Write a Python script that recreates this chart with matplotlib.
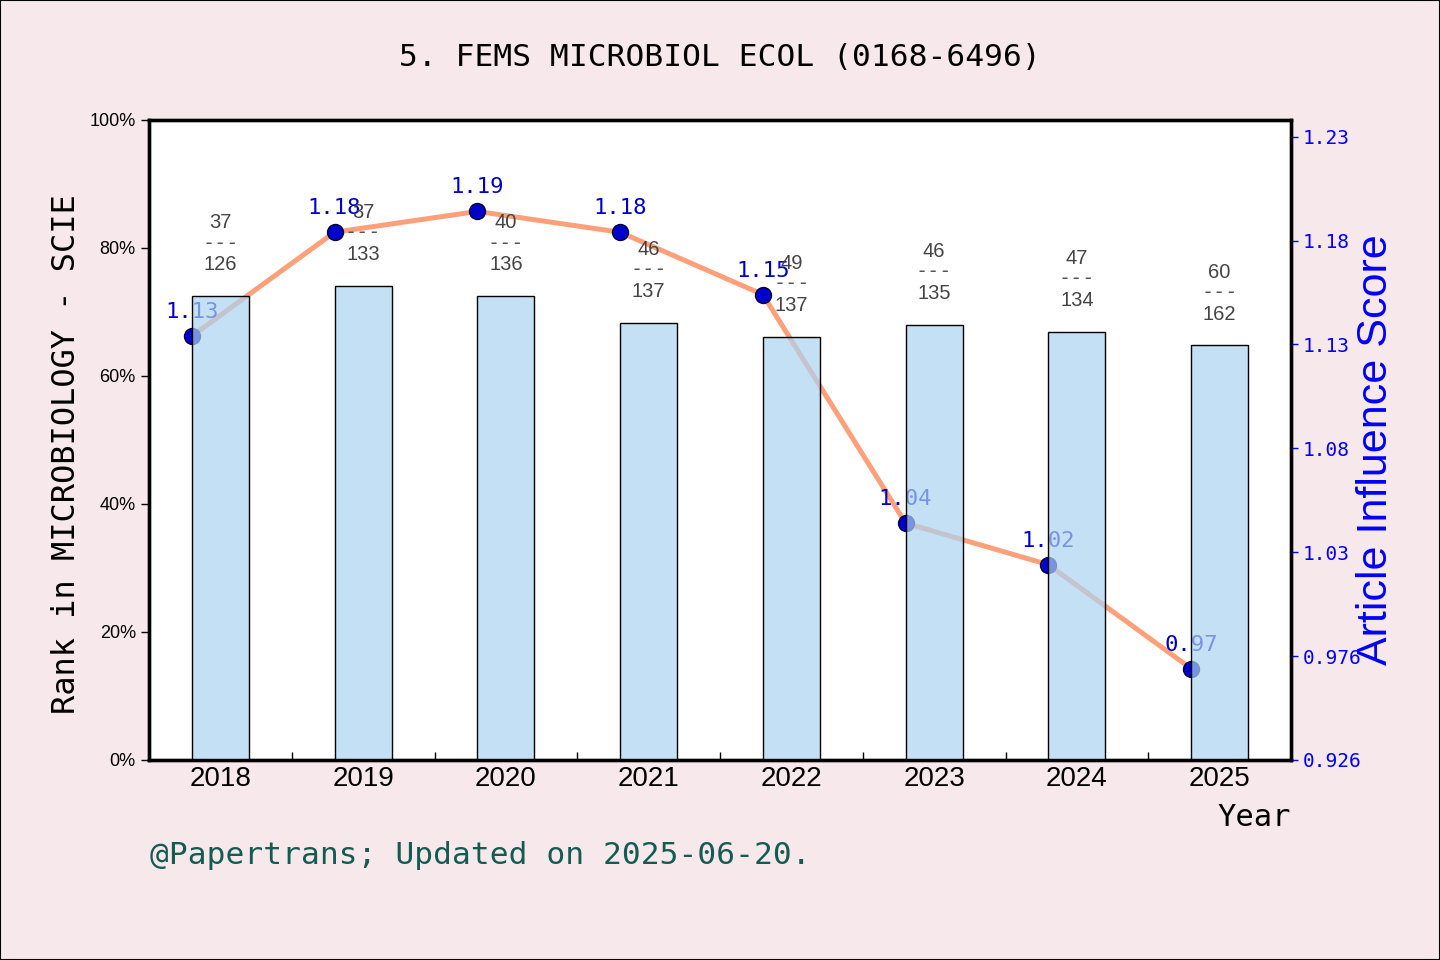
import numpy as np
import matplotlib
matplotlib.use("Agg")
import matplotlib.pyplot as plt
from matplotlib.colors import to_rgba
from matplotlib.patches import Rectangle

# ---- data ----
years = ["2018", "2019", "2020", "2021", "2022", "2023", "2024", "2025"]
rank_pct = [72.5, 74.1, 72.5, 68.3, 66.1, 68.0, 66.9, 64.8]
ranks = [37, 37, 40, 46, 49, 46, 47, 60]
totals = [126, 133, 136, 137, 137, 135, 134, 162]
ais = [1.13, 1.18, 1.19, 1.18, 1.15, 1.04, 1.02, 0.97]

MONO = "DejaVu Sans Mono"
SANS = "Liberation Sans"
BAR_W = 0.4

fig = plt.figure(figsize=(14.4, 9.6), dpi=100, facecolor="#f7e8eb")
ax = fig.add_axes([149 / 1440, 1 - 760 / 960, (1291 - 149) / 1440, 640 / 960])
ax2 = ax.twinx()

# bars sit above the line (semi transparent); ax2 gives the white background
ax.set_zorder(ax2.get_zorder() + 1)
ax.patch.set_visible(False)
ax2.patch.set_visible(True)
ax2.patch.set_facecolor("white")

x = np.arange(len(years))
xl = x - BAR_W / 2  # line points sit on the left edge of each bar

# -------- line: Article Influence Score --------
ax2.plot(xl, ais, color="#ffa07a", lw=3.6, zorder=2)
ax2.plot(xl, ais, "o", ms=11.5, color="#0000cd", mec="#000033", mew=1, zorder=3)
for xi, v in zip(xl, ais):
    ax2.annotate(f"{v:.2f}", (xi, v), xytext=(0, 24), textcoords="offset pixels",
                 ha="center", va="center", color="#0000cd", fontsize=16, family=MONO)

rng = max(ais) - min(ais)
lo, hi = min(ais) - 0.2 * rng, max(ais) + 0.2 * rng
ax2.set_ylim(lo, hi)
rt = np.arange(lo, hi, 0.05)
ax2.set_yticks(rt)
ax2.set_yticklabels([f"{t:.3g}" for t in rt])
ax2.tick_params(axis="y", colors="blue", labelsize=14, length=5, width=1, direction="out")
for lab in ax2.get_yticklabels():
    lab.set_family(MONO)

# -------- bars: rank percentile --------
ax.bar(x, rank_pct, width=BAR_W, color=to_rgba("#acd3f2", 0.7), edgecolor="black", lw=1, zorder=2)
for xi, h, r, t in zip(x, rank_pct, ranks, totals):
    ax.annotate(str(r), (xi, h), xytext=(0, 73), textcoords="offset pixels", ha="center",
                va="center", fontsize=14.5, color="#444444", family=SANS, zorder=4)
    ax.annotate("---", (xi, h), xytext=(0, 53), textcoords="offset pixels", ha="center",
                va="center", fontsize=14.5, color="#555555", family=MONO, zorder=4)
    ax.annotate(str(t), (xi, h), xytext=(0, 31), textcoords="offset pixels", ha="center",
                va="center", fontsize=14.5, color="#444444", family=SANS, zorder=4)

ax.set_xlim(-0.5, len(years) - 0.5)
ax.set_ylim(0, 100)
ax.set_yticks(range(0, 101, 20))
ax.set_yticklabels([f"{v}%" for v in range(0, 101, 20)], family=SANS, fontsize=13)
ax.set_xticks(x)
ax.set_xticklabels(years, family=SANS, fontsize=20)
ax.set_xticks(np.arange(0.5, len(years) - 0.5, 1), minor=True)
ax.tick_params(axis="x", which="major", length=0, pad=4)
ax.tick_params(axis="x", which="minor", direction="in", length=6, width=1)
ax.tick_params(axis="y", direction="out", length=6, width=1)

for a in (ax, ax2):
    for s in a.spines.values():
        s.set_linewidth(2.4)
        s.set_color("black")

# -------- texts --------
fig.text(0.5, 1 - 57 / 960, "5. FEMS MICROBIOL ECOL (0168-6496)", ha="center", va="center",
         fontsize=22.5, family=MONO)
fig.text(67 / 1440, 1 - 454 / 960, "Rank in MICROBIOLOGY - SCIE", rotation=90, ha="center",
         va="center", fontsize=23, family=MONO)
fig.text(1376 / 1440, 1 - 450 / 960, "Article Influence Score", rotation=90, ha="center",
         va="center", fontsize=31, family=SANS, color="blue")
fig.text(1254 / 1440, 1 - 817 / 960, "Year", ha="center", va="center", fontsize=22, family=MONO)
fig.text(150 / 1440, 1 - 855 / 960, "@Papertrans; Updated on 2025-06-20.", ha="left", va="center",
         fontsize=22.5, family=MONO, color="#145c52")

fig.patches.append(Rectangle((0, 0), 1, 1, transform=fig.transFigure, fill=False,
                             edgecolor="black", lw=1.5))

fig.savefig("out.png", dpi=100, facecolor=fig.get_facecolor())
